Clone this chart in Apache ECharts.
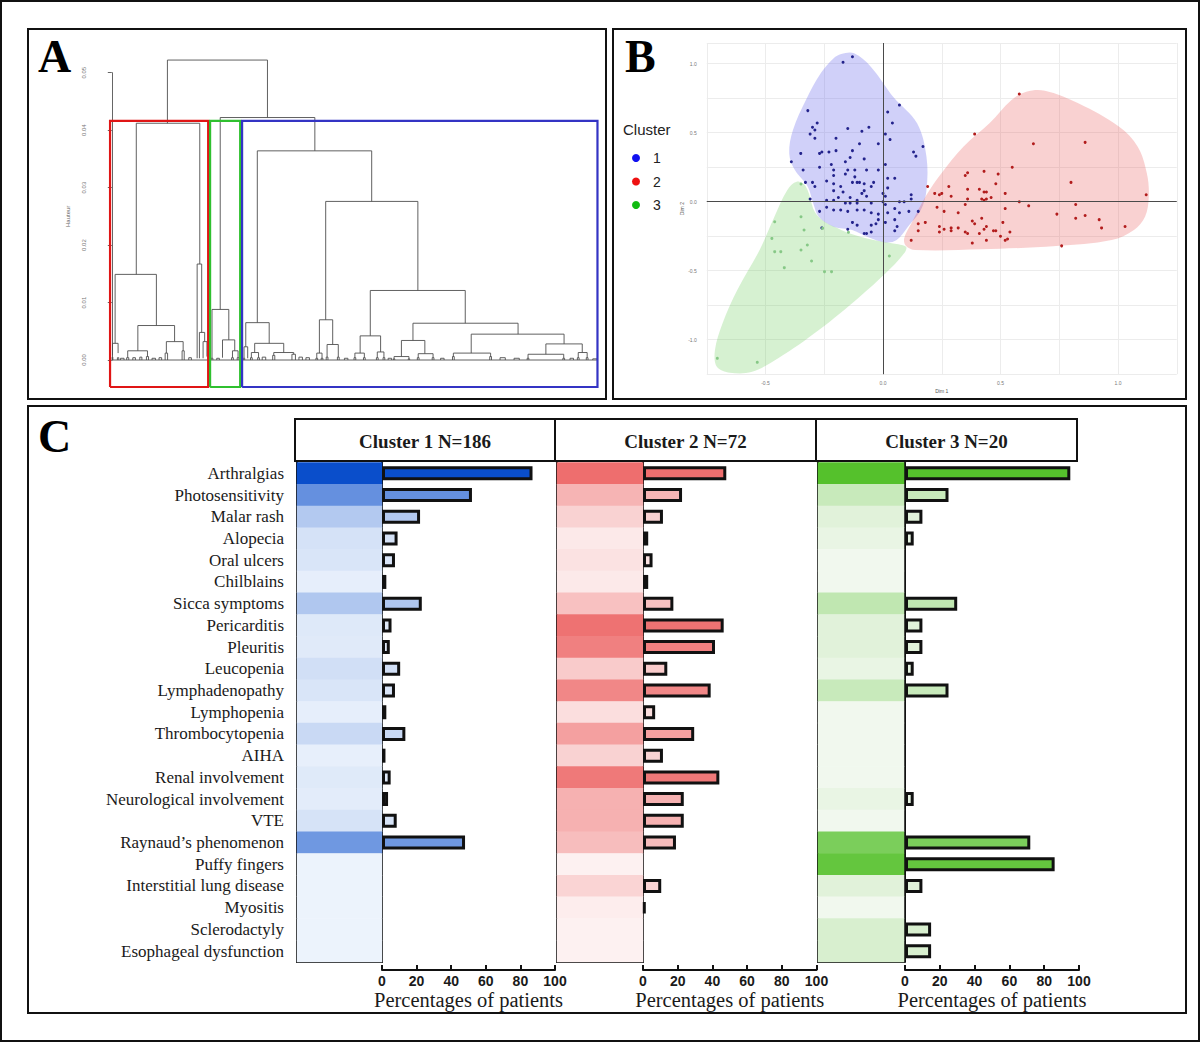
<!DOCTYPE html>
<html><head><meta charset="utf-8">
<script src="https://cdn.jsdelivr.net/npm/echarts@6/dist/echarts.min.js"></script>
<style>html,body{margin:0;padding:0;background:#fff}#c{width:1200px;height:1042px}</style>
</head><body><div id="c"></div>
<script>
// ---------------- Panel A : dendrogram (x = leaf order, y = height) ----------------
// [left x, right x, merge height, left child height, right child height]
const dendroMerges = [
  [31.8, 89, 0.0522, 0.0412, 0.0422],
  [14, 50.3, 0.0412, 0.0149, 0.0167],
  [1.9, 25.5, 0.0149, 0.0029, 0.006],
  [0.4, 3.6, 0.0029, 0.0008, 0.0012],
  [14.9, 35.9, 0.006, 0.0016, 0.0032],
  [9.1, 20.4, 0.0016, 0.0004, 0.0006],
  [31.2, 40.8, 0.0032, 0.0012, 0.0016],
  [48.8, 51.4, 0.0167, 0.0003, 0.0048],
  [50.1, 53.1, 0.0048, 0.0003, 0.0032],
  [52.2, 54.4, 0.0032, 0.0003, 0.0006],
  [62, 116.1, 0.0422, 0.0088, 0.0364],
  [57.3, 66.9, 0.0088, 0.0003, 0.0035],
  [63.3, 70.3, 0.0035, 0.0004, 0.0016],
  [69, 72.2, 0.0016, 0.0004, 0.0004],
  [83.2, 148.6, 0.0364, 0.0065, 0.0276],
  [76.6, 90, 0.0065, 0.0023, 0.0029],
  [75.6, 77.7, 0.0023, 0.0003, 0.0003],
  [81.7, 98.3, 0.0029, 0.0013, 0.0013],
  [79.8, 83.9, 0.0013, 0.0004, 0.0004],
  [92.6, 104, 0.0013, 0.0008, 0.001],
  [122.3, 175, 0.0276, 0.007, 0.0121],
  [118.7, 126.3, 0.007, 0.0012, 0.0027],
  [117.2, 120.2, 0.0012, 0.0003, 0.0003],
  [123.1, 129.5, 0.0027, 0.0005, 0.0005],
  [147.8, 202.1, 0.0121, 0.0042, 0.0064],
  [142, 153.7, 0.0042, 0.0012, 0.0014],
  [139, 144.4, 0.0012, 0.0004, 0.0004],
  [151.8, 155.6, 0.0014, 0.0004, 0.0004],
  [172.2, 232.3, 0.0064, 0.0034, 0.0045],
  [165.6, 179, 0.0034, 0.0006, 0.0011],
  [161.4, 169.9, 0.0006, 0.0002, 0.0002],
  [175.2, 183.7, 0.0011, 0.0004, 0.0004],
  [205.5, 258.6, 0.0045, 0.0012, 0.0028],
  [195.3, 216.6, 0.0012, 0.0006, 0.0006],
  [248.2, 269, 0.0028, 0.001, 0.0013],
  [238, 258.4, 0.001, 0.0003, 0.0003],
  [266.7, 271.8, 0.0013, 0.0004, 0.0004]
];
// small merges near the leaves: [left x, right x, height]
const dendroLeafMerges = [
  [0.2,0.6,0.0005],[3.2,4.0,0.0004],[5,7,0.0003],[8.5,9.7,0.0004],[12,13.5,0.0004],[16,17.2,0.0005],
  [19.8,21,0.0006],[23,25,0.0003],[27,28.5,0.0004],[30.5,31.9,0.0012],[40.2,41.4,0.0016],[44,45.5,0.0004],
  [56.8,57.8,0.0003],[60,61.5,0.0003],[68.5,69.5,0.0004],[71.7,72.7,0.0004],[75.2,76,0.0003],[79.3,80.3,0.0004],
  [83.4,84.4,0.0004],[86,88,0.0005],[92,93.2,0.0008],[103,105,0.001],[107,109,0.0005],[111,113,0.0004],
  [116.7,117.7,0.0003],[119.7,120.7,0.0003],[122.6,123.6,0.0005],[129,130,0.0005],[133,135,0.0003],
  [138.5,139.5,0.0004],[143.9,144.9,0.0004],[151.3,152.3,0.0004],[155.1,156.1,0.0004],[158,160,0.0003],
  [161,161.8,0.0002],[169.5,170.3,0.0002],[174.7,175.7,0.0004],[183.2,184.2,0.0004],[188,190,0.0003],
  [194.8,195.8,0.0006],[216.1,217.1,0.0006],[222,225,0.0004],[230,233,0.0003],[237.5,238.5,0.0003],
  [257.9,258.9,0.0003],[262,264,0.0003],[266.2,267.2,0.0004],[271.3,272.3,0.0004],[275,277.5,0.0002]
];
const dendroLeafSpan = [0, 278];
// cluster cut boxes: [left x, right x, bottom height, top height]
const dendroClusterBoxes = [
  [-1.0, 55.1, -0.0047, 0.0416],
  [56.2, 73.4, -0.0047, 0.0416],
  [74.5, 277.7, -0.0047, 0.0416]
];

// ---------------- Panel B : PCA-like scatter ----------------
const cluster1Points = [
[-0.17,1.01],[-0.13,1.05],[0.07,0.70],[0.02,0.65],[-0.32,0.66],[-0.28,0.57],[-0.30,0.54],[-0.29,0.52],
[-0.31,0.49],[-0.29,0.46],[-0.15,0.53],[-0.20,0.46],[-0.06,0.54],[-0.09,0.51],[0.01,0.49],[0.04,0.57],
[0.03,0.45],[-0.02,0.42],[0.17,0.40],[0.13,0.36],[0.14,0.33],[-0.35,0.35],[-0.39,0.29],[-0.27,0.35],
[-0.26,0.36],[-0.23,0.36],[-0.13,0.37],[-0.14,0.32],[-0.08,0.31],[-0.16,0.29],[-0.22,0.27],[-0.21,0.23],
[-0.21,0.19],[-0.34,0.23],[-0.16,0.20],[-0.12,0.23],[-0.07,0.23],[-0.02,0.23],[0.01,0.27],[0.02,0.17],
[0.05,0.17],[-0.33,0.14],[-0.30,0.14],[-0.24,0.15],[-0.21,0.13],[-0.13,0.14],[-0.11,0.14],[-0.10,0.14],
[-0.08,0.13],[-0.05,0.11],[-0.04,0.14],[0.00,0.06],[0.01,0.04],[-0.09,0.06],[-0.08,0.08],[-0.31,0.02],
[-0.24,0.01],[-0.17,0.07],[-0.19,0.03],[-0.14,0.03],[-0.11,0.01],[-0.11,-0.01],[-0.14,-0.01],[-0.16,-0.01],
[-0.21,0.01],[-0.24,-0.04],[-0.21,-0.06],[-0.18,-0.06],[-0.15,-0.07],[-0.11,-0.06],[-0.08,-0.06],[-0.05,-0.08],
[-0.02,-0.09],[0.01,-0.02],[0.02,-0.08],[0.05,-0.05],[0.07,0.00],[0.12,0.05],[0.12,0.02],[0.15,-0.07],
[0.11,-0.07],[0.07,-0.08],[0.05,-0.13],[0.01,-0.15],[-0.03,-0.16],[-0.02,-0.13],[-0.05,-0.17],[-0.08,-0.23],
[-0.07,-0.23],[-0.05,-0.22],[0.05,-0.21],[0.06,-0.18],[-0.15,-0.20],[-0.13,-0.15],[-0.11,-0.17],[-0.26,-0.19],
[-0.27,-0.07],[0.00,0.00],[-0.18,0.11],[-0.05,-0.01],[-0.07,0.04],[0.02,0.10],[-0.12,0.18],[-0.15,0.23],
[-0.21,0.08],[-0.29,0.11],[-0.20,0.37],[-0.10,0.42],[-0.27,0.25],[0.09,0.00]
];
const cluster2Points = [
[0.58,0.78],[0.39,0.49],[0.64,0.42],[0.86,0.43],[0.55,0.25],[0.49,0.20],[0.36,0.21],[0.35,0.19],[0.43,0.22],
[0.80,0.14],[0.19,0.11],[0.22,0.06],[0.24,0.05],[0.25,0.06],[0.28,0.11],[0.29,0.04],[0.36,0.09],[0.41,0.09],
[0.43,0.07],[0.44,0.07],[0.42,0.02],[0.43,0.01],[0.44,0.02],[0.46,0.03],[0.52,0.06],[0.58,0.00],[0.62,-0.03],
[0.82,-0.02],[1.12,0.05],[0.23,-0.04],[0.26,-0.07],[0.32,-0.08],[0.35,-0.02],[0.52,-0.05],[0.74,-0.09],
[0.86,-0.10],[0.82,-0.12],[0.92,-0.13],[0.93,-0.19],[1.03,-0.18],[0.15,-0.16],[0.18,-0.15],[0.15,-0.21],
[0.24,-0.18],[0.24,-0.22],[0.26,-0.20],[0.29,-0.19],[0.29,-0.21],[0.35,-0.22],[0.36,-0.23],[0.38,-0.14],
[0.39,-0.16],[0.42,-0.12],[0.43,-0.20],[0.44,-0.18],[0.44,-0.28],[0.47,-0.21],[0.48,-0.21],[0.50,-0.25],
[0.51,-0.15],[0.52,-0.28],[0.53,-0.27],[0.54,-0.22],[0.38,-0.30],[0.76,-0.32],[0.12,-0.28],[0.41,-0.23],
[0.32,-0.19],[0.36,0.02],[0.48,0.13]
];
const cluster3Points = [
[-0.705,-1.135],[-0.535,-1.164],[-0.461,-0.145],[-0.473,-0.266],[-0.461,-0.362],[-0.435,-0.362],
[-0.42,-0.478],[-0.349,-0.109],[-0.349,-0.35],[-0.322,-0.314],[-0.304,-0.43],[-0.249,-0.507],
[-0.219,-0.507],[0.027,-0.394],[-0.147,-0.222],[-0.349,0.128],[-0.257,-0.193],[-0.336,-0.205]
];
const cluster1Hull = [
[-0.178,1.07],[-0.123,1.075],[-0.052,0.978],[0.043,0.761],[0.145,0.568],[0.185,0.326],[0.185,0.085],
[0.161,-0.06],[0.106,-0.181],[0.058,-0.278],[0.011,-0.295],[-0.068,-0.254],[-0.131,-0.205],[-0.21,-0.181],
[-0.273,-0.109],[-0.297,-0.012],[-0.32,0.109],[-0.375,0.229],[-0.399,0.35],[-0.383,0.519],[-0.328,0.737],
[-0.265,0.93],[-0.21,1.039]
];
const cluster2Hull = [
[0.09,-0.266],[0.121,-0.157],[0.185,0.048],[0.248,0.205],[0.342,0.399],[0.453,0.568],[0.547,0.737],
[0.61,0.797],[0.689,0.804],[0.831,0.713],[1.005,0.543],[1.084,0.399],[1.123,0.205],[1.131,0.036],
[1.115,-0.109],[1.068,-0.205],[0.973,-0.278],[0.737,-0.321],[0.421,-0.345],[0.137,-0.35],[0.098,-0.321]
];
const cluster3Hull = [
[-0.367,0.145],[-0.328,0.109],[-0.281,-0.097],[-0.178,-0.205],[-0.068,-0.266],[0.043,-0.302],[0.098,-0.326],
[0.09,-0.374],[0.011,-0.519],[-0.099,-0.688],[-0.273,-0.93],[-0.446,-1.135],[-0.557,-1.232],[-0.651,-1.239],
[-0.707,-1.196],[-0.715,-1.075],[-0.683,-0.882],[-0.62,-0.64],[-0.525,-0.35],[-0.462,-0.109],[-0.407,0.085]
];
const clusterNames = ['1', '2', '3'];

// ---------------- Panel C : symptom frequencies ----------------
const symptoms = ['Arthralgias','Photosensitivity','Malar rash','Alopecia','Oral ulcers','Chilblains',
  'Sicca symptoms','Pericarditis','Pleuritis','Leucopenia','Lymphadenopathy','Lymphopenia',
  'Thrombocytopenia','AIHA','Renal involvement','Neurological involvement','VTE',
  'Raynaud\u2019s phenomenon','Puffy fingers','Interstitial lung disease','Myositis','Sclerodactyly',
  'Esophageal dysfunction'];
const cluster1Pct = [87,52,22,9,7.5,2.5,23,5.5,4.5,10.5,7.5,2.5,13.5,2,5,3.5,8.5,48,0,0,0,0,0];
const cluster2Pct = [48,22.5,11.5,3,5.5,3,17.5,46.5,41.5,14,39,7,29.5,11.5,44,23.5,23.5,19,0,10.5,1.5,0,0];
const cluster3Pct = [95,25,10,5,0,0,30,10,10,5,25,0,0,0,0,5,0,72,86,10,0,15,15];
const clusterTitles = ['Cluster 1 N=186', 'Cluster 2 N=72', 'Cluster 3 N=20'];
const pctTicks = [0, 20, 40, 60, 80, 100];

// ---------------- styles / layout ----------------
const SERIF = "'Liberation Serif','DejaVu Serif',serif";
const SANS = "'Liberation Sans',Arial,sans-serif";
const boxColors = ['#e01515', '#2fc02f', '#3434c4'];
const hullFills = ['rgba(100,100,235,0.30)', 'rgba(235,90,90,0.28)', 'rgba(90,200,70,0.25)'];
const pointColors = ['#23238c', '#b21c1c', '#86c886'];
const legendColors = ['#1010f0', '#ee1111', '#11bb11'];
const rampColors = [['#ecf3fc', '#0a4ecb'], ['#fdf1f1', '#ee6e6e'], ['#f1f8ee', '#55c12c']];
const heatGrids = [{left: 297, width: 85}, {left: 557, width: 86}, {left: 818, width: 86}];
const barGrids = [{left: 382, width: 173}, {left: 643, width: 173.5}, {left: 905, width: 174}];
const headerBoxes = [[295, 260], [555, 261], [816, 261]];
const panelTop = 462.5, panelHeight = 499.5;

const chart = echarts.init(document.getElementById('c'), null, {renderer: 'svg'});

const grids = [
  {left: 111.8, top: 72.7, width: 486.2, height: 287.3, outerBoundsMode: 'none'},
  {left: 706.75, top: 43, width: 470, height: 331.2, outerBoundsMode: 'none'}
];
const xAxes = [
  {gridIndex: 0, type: 'value', min: 0, max: 278, show: false},
  {gridIndex: 1, type: 'value', min: -0.75, max: 1.25, interval: 0.25,
   axisLine: {show: false}, axisTick: {show: false},
   axisLabel: {fontSize: 5, color: '#777', margin: 6, formatter: v => Math.abs(v * 2 - Math.round(v * 2)) < 1e-6 ? v.toFixed(1) : ''},
   splitLine: {show: true, lineStyle: {color: '#ececec', width: 1}},
   name: 'Dim 1', nameLocation: 'middle', nameGap: 14, nameTextStyle: {fontSize: 5, color: '#555'}}
];
const yAxes = [
  {gridIndex: 0, type: 'value', min: 0, max: 0.05, interval: 0.01, offset: 21,
   axisLine: {show: true, lineStyle: {color: '#666', width: 1}},
   axisTick: {show: true, length: 4, lineStyle: {color: '#666'}},
   axisLabel: {rotate: 90, fontSize: 6, color: '#777', margin: 4, formatter: v => v.toFixed(2)},
   splitLine: {show: false},
   name: 'Hauteur', nameLocation: 'middle', nameGap: 20, nameRotate: 90, nameTextStyle: {fontSize: 6, color: '#666'}},
  {gridIndex: 1, type: 'value', min: -1.25, max: 1.15, interval: 0.25,
   axisLine: {show: false}, axisTick: {show: false},
   axisLabel: {fontSize: 5, color: '#777', margin: 10, formatter: v => Math.abs(v * 2 - Math.round(v * 2)) < 1e-6 ? v.toFixed(1) : ''},
   splitLine: {show: true, lineStyle: {color: '#ececec', width: 1}},
   name: 'Dim 2', nameLocation: 'middle', nameGap: 21, nameRotate: 90, nameTextStyle: {fontSize: 5, color: '#555'}}
];

const series = [];
// dendrogram
const dendroData = [];
dendroMerges.forEach(m => dendroData.push({coords: [[m[0], m[3]], [m[0], m[2]], [m[1], m[2]], [m[1], m[4]]]}));
dendroLeafMerges.forEach(m => dendroData.push({coords: [[m[0], 0], [m[0], m[2]], [m[1], m[2]], [m[1], 0]]}));
dendroData.push({coords: [[dendroLeafSpan[0], 0], [dendroLeafSpan[1], 0]]});
series.push({type: 'lines', coordinateSystem: 'cartesian2d', xAxisIndex: 0, yAxisIndex: 0, polyline: true,
  clip: false, silent: true, data: dendroData, lineStyle: {color: '#4f4f4f', width: 0.9, opacity: 1}});
series.push({type: 'lines', coordinateSystem: 'cartesian2d', xAxisIndex: 0, yAxisIndex: 0, polyline: true,
  clip: false, silent: true,
  data: dendroClusterBoxes.map((b, i) => ({
    coords: [[b[0], b[2]], [b[0], b[3]], [b[1], b[3]], [b[1], b[2]], [b[0], b[2]]],
    lineStyle: {color: boxColors[i], width: 2.2, opacity: 1}
  }))});

// hulls
const hulls = [cluster1Hull, cluster2Hull, cluster3Hull];
const ptsets = [cluster1Points, cluster2Points, cluster3Points];
[2, 0, 1].forEach(ci => {
  const hull = hulls[ci];
  series.push({type: 'custom', xAxisIndex: 1, yAxisIndex: 1, silent: true, z: 1,
    data: hull, encode: {x: 0, y: 1},
    renderItem: (params, api) => {
      if (params.dataIndex !== 0) return null;
      const pts = hull.map(p => api.coord(p));
      return {type: 'polygon', shape: {points: pts, smooth: 0.35}, style: {fill: hullFills[ci], stroke: 'none'}};
    }});
});
// points
ptsets.forEach((pts, ci) => {
  const s = {type: 'scatter', name: clusterNames[ci], xAxisIndex: 1, yAxisIndex: 1, z: 3,
    data: pts, symbolSize: 3, itemStyle: {color: pointColors[ci], opacity: 1}};
  if (ci === 0) {
    s.markLine = {silent: true, symbol: ['none', 'none'], label: {show: false},
      lineStyle: {color: '#4a4a4a', width: 1, type: 'solid'}, data: [{xAxis: 0}, {yAxis: 0}]};
  }
  series.push(s);
});

// Panel C grids
const pcts = [cluster1Pct, cluster2Pct, cluster3Pct];
const visualMaps = [];
for (let k = 0; k < 3; k++) {
  const hg = grids.length;
  grids.push({left: heatGrids[k].left, width: heatGrids[k].width, top: panelTop, height: panelHeight, outerBoundsMode: 'none'});
  xAxes.push({gridIndex: hg, type: 'category', data: [''], axisLine: {show: true, lineStyle: {color: '#111', width: 2}},
    axisTick: {show: false}, axisLabel: {show: false}});
  yAxes.push({gridIndex: hg, type: 'category', data: symptoms, inverse: true,
    axisLine: {show: true, lineStyle: {color: '#111', width: 2}}, axisTick: {show: false},
    axisLabel: {show: k === 0, interval: 0, hideOverlap: false, fontFamily: SERIF, fontSize: 17, color: '#1a1a1a', margin: 13}});
  const bg = grids.length;
  grids.push({left: barGrids[k].left, width: barGrids[k].width, top: panelTop, height: panelHeight, outerBoundsMode: 'none'});
  xAxes.push({gridIndex: bg, type: 'value', min: 0, max: 100, interval: 20, offset: 8,
    axisLine: {show: true, lineStyle: {color: '#111', width: 2}},
    axisTick: {show: true, inside: true, length: 5, lineStyle: {color: '#111', width: 2}},
    axisLabel: {fontFamily: SANS, fontWeight: 'bold', fontSize: 14, color: '#1a1a1a', margin: 4,
      formatter: v => pctTicks.indexOf(v) >= 0 ? String(v) : ''},
    splitLine: {show: false},
    name: 'Percentages of patients', nameLocation: 'middle', nameGap: 19,
    nameTextStyle: {fontFamily: SERIF, fontSize: 20.5, color: '#1a1a1a'}});
  yAxes.push({gridIndex: bg, type: 'category', data: symptoms, inverse: true,
    axisLine: {show: true, lineStyle: {color: '#111', width: 2}}, axisTick: {show: false}, axisLabel: {show: false}});
  const heatIdx = series.length;
  series.push({type: 'heatmap', xAxisIndex: hg, yAxisIndex: hg, silent: true,
    data: pcts[k].map((v, i) => [0, i, v]), itemStyle: {borderWidth: 0}});
  const barIdx = series.length;
  series.push({type: 'bar', xAxisIndex: bg, yAxisIndex: bg, silent: true, barWidth: 14,
    encode: {x: 0, y: 1},
    data: pcts[k].map((v, i) => (v > 0 ? [v, i, v] : null)).filter(d => d !== null),
    itemStyle: {borderColor: '#111', borderWidth: 3}});
  visualMaps.push({type: 'continuous', show: false, dimension: 2, seriesIndex: [heatIdx, barIdx],
    min: 0, max: Math.max.apply(null, pcts[k]), inRange: {color: rampColors[k]}});
}

// graphic: panel frames, letters, header boxes
const graphic = [
  {type: 'rect', shape: {x: 1, y: 1, width: 1198, height: 1040}, style: {fill: 'none', stroke: '#111', lineWidth: 2}, silent: true},
  {type: 'rect', shape: {x: 28, y: 29, width: 578, height: 370}, style: {fill: 'none', stroke: '#111', lineWidth: 2}, silent: true},
  {type: 'rect', shape: {x: 613, y: 29, width: 573, height: 370}, style: {fill: 'none', stroke: '#111', lineWidth: 2}, silent: true},
  {type: 'rect', shape: {x: 28, y: 406, width: 1158, height: 607}, style: {fill: 'none', stroke: '#111', lineWidth: 2}, silent: true},
  {type: 'text', left: 38, top: 33, style: {text: 'A', font: "bold 46px 'Liberation Serif',serif", fill: '#000'}, silent: true},
  {type: 'text', left: 625, top: 33, style: {text: 'B', font: "bold 46px 'Liberation Serif',serif", fill: '#000'}, silent: true},
  {type: 'text', left: 38, top: 413, style: {text: 'C', font: "bold 46px 'Liberation Serif',serif", fill: '#000'}, silent: true},
  {type: 'text', left: 623, top: 122, style: {text: 'Cluster', font: "15px 'Liberation Sans',Arial,sans-serif", fill: '#222'}, silent: true}
];
headerBoxes.forEach((h, k) => {
  graphic.push({type: 'rect', shape: {x: h[0], y: 419, width: h[1], height: 42}, style: {fill: 'none', stroke: '#111', lineWidth: 2}, silent: true});
  graphic.push({type: 'text', x: h[0] + h[1] / 2, y: 441, style: {text: clusterTitles[k], font: "bold 19px 'Liberation Serif',serif",
    fill: '#1a1a1a', textAlign: 'center', textVerticalAlign: 'middle'}, silent: true});
});

chart.setOption({
  animation: false,
  backgroundColor: '#fff',
  textStyle: {fontFamily: SANS},
  grid: grids, xAxis: xAxes, yAxis: yAxes,
  visualMap: visualMaps,
  legend: {show: true, orient: 'vertical', left: 627, top: 146, itemWidth: 8, itemHeight: 8, itemGap: 9.5,
    icon: 'circle', selectedMode: false,
    data: clusterNames.map((n, i) => ({name: n, itemStyle: {color: legendColors[i]}})),
    textStyle: {fontSize: 14, lineHeight: 14, color: '#222', fontFamily: SANS, padding: [0, 0, 0, 8]}},
  series: series,
  graphic: graphic
});
</script></body></html>
